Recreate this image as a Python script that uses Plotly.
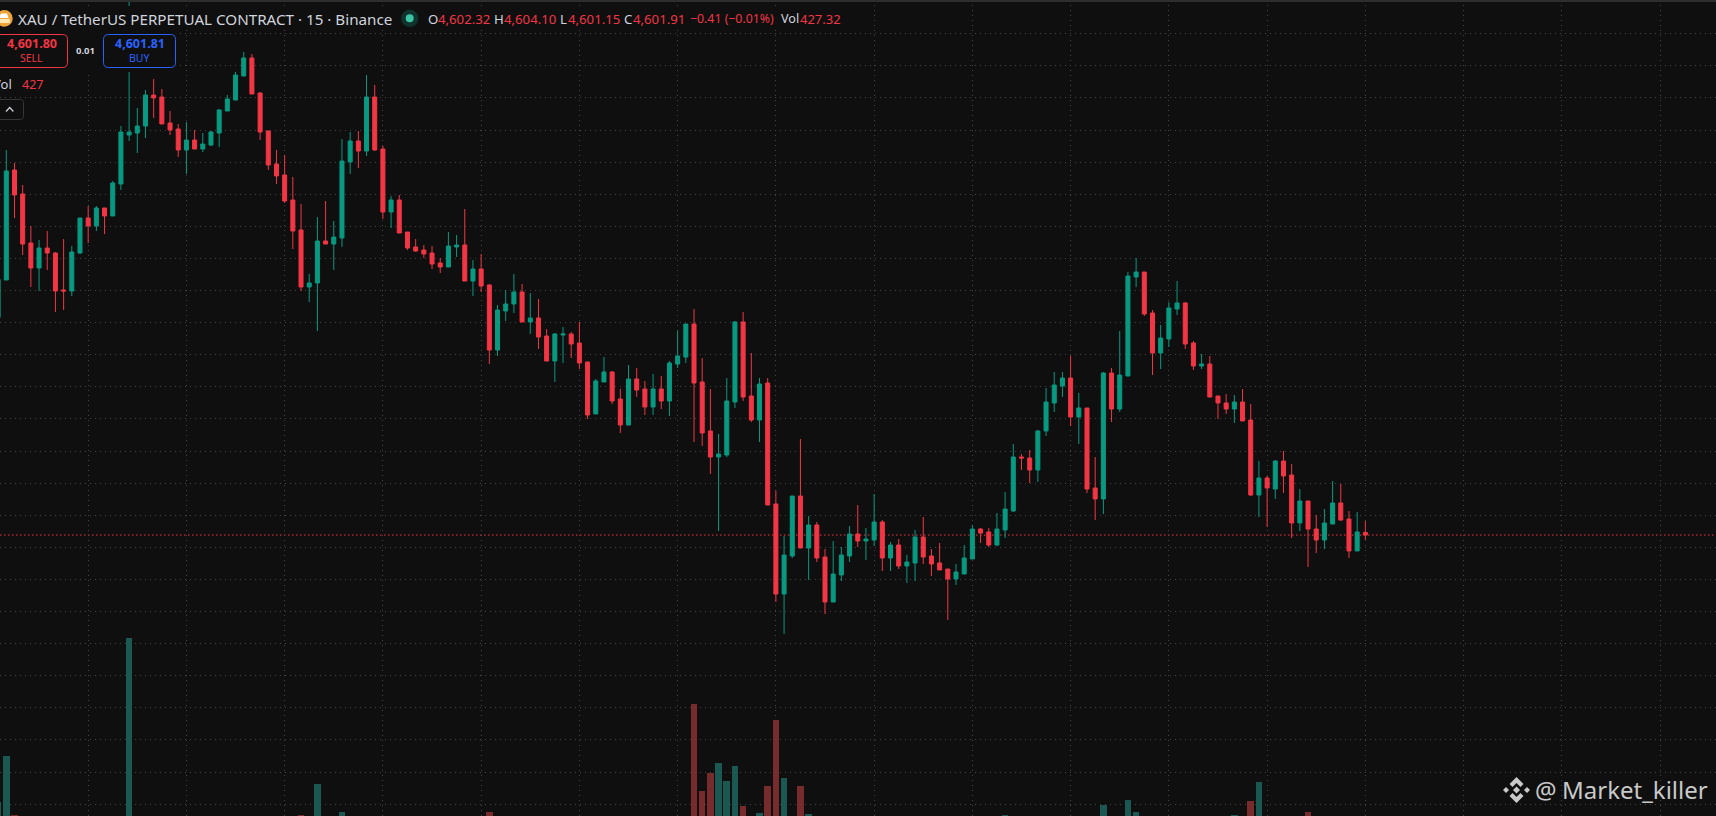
import plotly.graph_objects as go

candle_ids = list(range(-1, 167))

opens = [
    4635.82, 4641.64, 4658.77, 4655.03, 4647.40, 4643.51, 4646.62, 4645.84, 4640.08, 4639.92,
    4645.84, 4651.29, 4650.05, 4652.85, 4651.61, 4656.59, 4664.22, 4664.53, 4665.62, 4670.45,
    4670.14, 4666.09, 4665.16, 4661.89, 4663.44, 4662.04, 4662.66, 4664.53, 4667.96, 4669.67,
    4673.41, 4676.22, 4670.76, 4664.85, 4659.71, 4657.99, 4654.10, 4649.43, 4640.55, 4641.17,
    4647.71, 4647.24, 4648.18, 4660.02, 4663.29, 4661.73, 4670.14, 4662.04, 4652.23, 4654.10,
    4649.11, 4646.78, 4646.31, 4645.84, 4644.29, 4643.66, 4646.78, 4647.09, 4641.48, 4643.35,
    4640.86, 4630.73, 4636.81, 4637.90, 4639.77, 4635.10, 4635.72, 4632.91, 4629.02, 4633.07,
    4633.23, 4631.82, 4628.87, 4620.77, 4625.75, 4627.31, 4623.10, 4619.05, 4626.22, 4624.66,
    4621.86, 4624.66, 4622.79, 4628.55, 4629.64, 4634.78, 4625.75, 4618.12, 4614.07, 4614.38,
    4622.63, 4635.10, 4623.57, 4619.83, 4625.59, 4606.75, 4592.73, 4598.65, 4607.99, 4599.89,
    4603.48, 4598.49, 4591.48, 4595.69, 4598.65, 4602.07, 4600.98, 4601.14, 4603.94, 4598.34,
    4600.36, 4597.09, 4597.56, 4601.61, 4598.65, 4597.56, 4596.62, 4595.06, 4595.84, 4598.18,
    4602.85, 4602.39, 4600.36, 4602.70, 4605.66, 4614.07, 4613.91, 4612.04, 4618.12, 4622.48,
    4625.13, 4626.37, 4620.30, 4621.70, 4609.24, 4607.53, 4627.15, 4621.54, 4626.68, 4642.10,
    4642.88, 4636.50, 4630.27, 4632.45, 4637.12, 4638.06, 4631.82, 4628.24, 4628.55, 4623.57,
    4622.48, 4621.54, 4622.63, 4619.83, 4608.15, 4610.80, 4609.08, 4613.44, 4611.26, 4603.79,
    4607.21, 4602.85, 4601.14, 4603.63, 4606.90, 4604.41, 4599.43, 4602.32,
]
highs = [
    4642.50, 4661.89, 4659.86, 4656.43, 4650.05, 4647.87, 4649.27, 4646.00, 4648.02, 4646.93,
    4651.29, 4653.16, 4653.16, 4652.85, 4657.06, 4665.62, 4684.99, 4668.43, 4671.23, 4672.94,
    4671.39, 4667.96, 4665.94, 4666.25, 4665.00, 4664.53, 4664.85, 4668.27, 4670.45, 4674.04,
    4677.15, 4676.84, 4670.92, 4664.85, 4661.89, 4661.11, 4657.68, 4653.47, 4642.57, 4651.45,
    4653.94, 4650.83, 4663.60, 4664.69, 4664.85, 4673.57, 4672.01, 4662.51, 4654.72, 4654.88,
    4649.11, 4648.02, 4647.09, 4646.93, 4645.06, 4649.11, 4648.65, 4652.70, 4644.75, 4645.69,
    4641.01, 4637.74, 4640.08, 4642.57, 4641.01, 4639.61, 4638.68, 4634.00, 4633.38, 4634.32,
    4633.54, 4635.10, 4628.87, 4626.22, 4629.64, 4627.46, 4624.66, 4628.40, 4627.93, 4625.91,
    4627.00, 4626.68, 4629.02, 4633.75, 4634.78, 4637.12, 4629.49, 4624.66, 4617.65, 4626.37,
    4635.25, 4636.65, 4630.27, 4626.37, 4626.37, 4608.82, 4601.76, 4607.99, 4616.87, 4604.88,
    4603.94, 4599.74, 4600.98, 4600.05, 4603.32, 4606.59, 4603.01, 4608.30, 4604.25, 4600.83,
    4601.30, 4598.80, 4602.70, 4604.72, 4599.74, 4600.67, 4596.62, 4597.40, 4600.36, 4603.48,
    4603.01, 4603.01, 4605.35, 4608.62, 4616.09, 4614.53, 4615.16, 4618.27, 4624.82, 4627.31,
    4627.31, 4629.80, 4624.04, 4621.70, 4614.07, 4627.31, 4627.93, 4633.69, 4642.88, 4645.06,
    4642.88, 4636.96, 4634.63, 4638.21, 4641.48, 4638.21, 4632.14, 4630.11, 4629.80, 4623.57,
    4623.88, 4623.72, 4624.66, 4622.32, 4613.44, 4611.11, 4613.60, 4615.00, 4612.98, 4609.08,
    4607.21, 4605.03, 4605.97, 4610.33, 4609.86, 4605.66, 4605.50, 4604.10,
]
lows = [
    4634.00, 4641.64, 4651.29, 4645.53, 4640.55, 4639.92, 4643.19, 4636.65, 4636.96, 4639.15,
    4645.69, 4647.40, 4649.27, 4648.80, 4651.61, 4655.66, 4663.29, 4661.42, 4663.76, 4666.87,
    4665.94, 4664.22, 4660.80, 4658.15, 4662.04, 4661.57, 4662.51, 4662.35, 4667.96, 4669.67,
    4673.41, 4670.61, 4663.44, 4658.77, 4656.59, 4653.63, 4646.47, 4639.92, 4638.21, 4633.69,
    4647.24, 4643.19, 4646.78, 4658.15, 4659.08, 4660.95, 4661.73, 4651.14, 4649.74, 4648.96,
    4646.31, 4646.00, 4645.06, 4643.35, 4642.73, 4643.66, 4645.22, 4641.48, 4639.15, 4639.77,
    4628.55, 4629.80, 4635.25, 4636.50, 4635.10, 4633.23, 4630.89, 4629.02, 4625.75, 4628.71,
    4629.49, 4627.77, 4619.99, 4620.77, 4625.75, 4622.32, 4617.81, 4619.05, 4623.41, 4620.61,
    4620.61, 4621.54, 4620.45, 4627.93, 4628.71, 4616.40, 4615.78, 4611.42, 4602.54, 4614.07,
    4621.70, 4622.79, 4619.52, 4616.40, 4606.59, 4591.48, 4586.50, 4598.34, 4599.89, 4594.91,
    4597.71, 4589.61, 4591.48, 4594.75, 4597.71, 4600.05, 4598.02, 4600.21, 4596.31, 4596.31,
    4596.62, 4594.44, 4594.75, 4597.40, 4595.53, 4596.47, 4588.68, 4594.13, 4595.84, 4598.18,
    4600.67, 4600.05, 4600.21, 4601.45, 4605.50, 4612.04, 4610.02, 4610.17, 4617.34, 4621.08,
    4623.41, 4618.90, 4616.09, 4608.46, 4604.25, 4605.19, 4619.52, 4621.08, 4626.68, 4640.55,
    4636.03, 4626.84, 4627.77, 4631.20, 4636.19, 4630.89, 4627.62, 4627.77, 4623.41, 4619.99,
    4620.77, 4619.36, 4619.68, 4607.99, 4604.72, 4603.16, 4607.53, 4608.46, 4601.45, 4602.54,
    4596.93, 4599.12, 4599.74, 4603.63, 4604.10, 4598.34, 4599.43, 4601.15,
]
closes = [
    4641.74, 4658.62, 4654.88, 4647.24, 4643.51, 4646.62, 4645.84, 4639.92, 4639.92, 4646.00,
    4651.29, 4650.05, 4652.85, 4651.61, 4656.75, 4664.69, 4664.69, 4665.62, 4670.45, 4669.99,
    4665.94, 4665.00, 4661.89, 4663.44, 4662.04, 4662.82, 4664.69, 4668.12, 4669.83, 4673.57,
    4676.22, 4670.61, 4664.69, 4659.55, 4657.84, 4653.94, 4649.27, 4640.55, 4641.17, 4647.71,
    4647.24, 4648.33, 4660.17, 4663.29, 4661.73, 4670.14, 4661.89, 4652.23, 4654.10, 4648.96,
    4646.62, 4646.15, 4645.69, 4644.13, 4643.66, 4646.93, 4647.09, 4641.48, 4643.35, 4640.70,
    4630.73, 4636.96, 4637.90, 4639.77, 4635.10, 4635.72, 4632.76, 4629.02, 4633.23, 4633.23,
    4631.67, 4628.71, 4620.61, 4625.91, 4627.31, 4622.79, 4619.05, 4626.22, 4624.50, 4621.86,
    4624.66, 4622.79, 4628.71, 4629.80, 4634.78, 4625.59, 4617.81, 4614.07, 4614.53, 4622.79,
    4635.10, 4623.41, 4619.83, 4625.44, 4606.59, 4592.73, 4598.80, 4607.99, 4599.89, 4603.48,
    4598.34, 4591.48, 4595.84, 4598.80, 4602.07, 4600.98, 4601.30, 4603.94, 4598.34, 4600.36,
    4597.09, 4597.71, 4601.61, 4598.49, 4597.40, 4596.47, 4595.06, 4596.16, 4598.34, 4602.85,
    4602.23, 4600.36, 4602.85, 4605.97, 4614.07, 4613.91, 4612.04, 4618.12, 4622.63, 4625.28,
    4626.37, 4620.30, 4621.70, 4609.08, 4607.53, 4627.15, 4621.54, 4626.84, 4642.26, 4642.88,
    4636.34, 4630.27, 4632.60, 4637.28, 4638.06, 4631.67, 4628.24, 4628.55, 4623.41, 4622.48,
    4621.54, 4622.63, 4619.68, 4608.15, 4610.80, 4609.24, 4613.44, 4611.11, 4603.79, 4607.21,
    4602.85, 4601.14, 4603.79, 4606.90, 4604.25, 4599.43, 4602.39, 4601.91,
]

# only the volume bars that reach above the bottom edge of the screenshot
vol_ids = [-1, 0, 1, 15, 36, 38, 41, 59, 84, 85, 86, 87, 88, 89, 90, 92, 93, 94, 95, 97, 98,
           122, 134, 137, 138, 150, 152, 153, 159, 166]
vol_values = [950, 2100, 625, 5050, 625, 1400, 700, 700, 3400, 1225, 1675, 1925, 1475, 1850, 850,
              675, 1350, 3000, 1550, 1350, 650, 625, 875, 1000, 700, 625, 975, 1450, 700, 427]

UP = "#089981"
DOWN = "#f23645"
UP_VOL = "rgba(29,94,88,0.92)"
DOWN_VOL = "rgba(128,46,48,0.92)"
BG = "#0f0f0f"
GRID = "#444444"
TEXT = "#d1d4dc"
BLUE = "#2962ff"
FONT = "Noto Sans"

W, H = 1716, 816


def px(x):
    return x / W


def py(y):
    return 1 - y / H


def rrect(x0, y0, x1, y1, r):
    return (f"M {px(x0 + r)} {py(y0)} L {px(x1 - r)} {py(y0)} Q {px(x1)} {py(y0)} {px(x1)} {py(y0 + r)} "
            f"L {px(x1)} {py(y1 - r)} Q {px(x1)} {py(y1)} {px(x1 - r)} {py(y1)} "
            f"L {px(x0 + r)} {py(y1)} Q {px(x0)} {py(y1)} {px(x0)} {py(y1 - r)} "
            f"L {px(x0)} {py(y0 + r)} Q {px(x0)} {py(y0)} {px(x0 + r)} {py(y0)} Z")


def poly(points):
    return "M " + " L ".join(f"{px(x)} {py(y)}" for x, y in points) + " Z"


fig = go.Figure()

fig.add_trace(go.Candlestick(
    x=candle_ids, open=opens, high=highs, low=lows, close=closes,
    increasing=dict(line=dict(color=UP, width=1), fillcolor=UP),
    decreasing=dict(line=dict(color=DOWN, width=1), fillcolor=DOWN),
    whiskerwidth=0,
    showlegend=False,
))

vol_colors = []
for i in vol_ids:
    k = candle_ids.index(i)
    vol_colors.append(DOWN_VOL if closes[k] < opens[k] else UP_VOL)

fig.add_trace(go.Bar(
    x=vol_ids, y=vol_values, yaxis="y2", width=0.8,
    marker=dict(color=vol_colors, line=dict(width=0)),
    showlegend=False,
))

shapes = [
    # last price line
    dict(type="line", xref="paper", x0=0, x1=1, yref="y", y0=closes[-1], y1=closes[-1],
         line=dict(color=DOWN, width=1, dash="1.5px,2.5px"), layer="below"),
    # legend panels hide what runs underneath them
    dict(type="rect", xref="paper", yref="paper", x0=px(0), x1=px(845), y0=py(30), y1=py(6),
         fillcolor=BG, line=dict(width=0), layer="above"),
    dict(type="rect", xref="paper", yref="paper", x0=px(0), x1=px(177), y0=py(72), y1=py(30),
         fillcolor=BG, line=dict(width=0), layer="above"),
    # strip along the top of the page
    dict(type="rect", xref="paper", yref="paper", x0=0, x1=1, y0=py(2), y1=1,
         fillcolor="#2e2e2e", line=dict(width=0), layer="above"),
    # symbol icon
    dict(type="circle", xref="paper", yref="paper", x0=px(-4), x1=px(12.7), y0=py(26.8), y1=py(10),
         fillcolor="#eda53a", line=dict(width=0), layer="above"),
    dict(type="path", xref="paper", yref="paper", layer="above", fillcolor="#ffffff", line=dict(width=0),
         path=poly([(1, 13.5), (7, 13.5), (8.5, 18), (-1, 18)])),
    dict(type="path", xref="paper", yref="paper", layer="above", fillcolor="#fde9b5", line=dict(width=0),
         path=poly([(-3, 19), (9.5, 19), (10, 23), (-3, 23)])),
    # market status dot
    dict(type="circle", xref="paper", yref="paper", x0=px(401), x1=px(418.4), y0=py(27), y1=py(9.6),
         fillcolor="#10332e", line=dict(width=0), layer="above"),
    dict(type="circle", xref="paper", yref="paper", x0=px(405.7), x1=px(413.7), y0=py(22.3), y1=py(14.3),
         fillcolor="#3cc4a4", line=dict(width=0), layer="above"),
    # sell / buy boxes
    dict(type="path", xref="paper", yref="paper", layer="above", line=dict(color=DOWN, width=1),
         path=rrect(-4, 34.5, 67.5, 67.5, 5)),
    dict(type="path", xref="paper", yref="paper", layer="above", line=dict(color=BLUE, width=1),
         path=rrect(103.5, 34.5, 175.5, 67.5, 5)),
    # collapse button
    dict(type="path", xref="paper", yref="paper", layer="above", line=dict(color="#363636", width=1),
         path=rrect(-6, 99.5, 23.5, 119.5, 3)),
    dict(type="path", xref="paper", yref="paper", layer="above", line=dict(color=TEXT, width=1.2),
         path=f"M {px(6)} {py(111.5)} L {px(9.7)} {py(107.5)} L {px(13.4)} {py(111.5)}"),
    # watermark logo
    dict(type="path", xref="paper", yref="paper", layer="above", fillcolor="#c9c9c9", line=dict(width=0),
         path=poly([(1516.5, 777), (1523.5, 784), (1520.5, 787), (1516.5, 783), (1512.5, 787), (1509.5, 784)])),
    dict(type="path", xref="paper", yref="paper", layer="above", fillcolor="#c9c9c9", line=dict(width=0),
         path=poly([(1516.5, 803), (1523.5, 796), (1520.5, 793), (1516.5, 797), (1512.5, 793), (1509.5, 796)])),
    dict(type="path", xref="paper", yref="paper", layer="above", fillcolor="#c9c9c9", line=dict(width=0),
         path=poly([(1516.5, 786.5), (1520, 790), (1516.5, 793.5), (1513, 790)])),
    dict(type="path", xref="paper", yref="paper", layer="above", fillcolor="#c9c9c9", line=dict(width=0),
         path=poly([(1506, 787), (1509, 790), (1506, 793), (1503, 790)])),
    dict(type="path", xref="paper", yref="paper", layer="above", fillcolor="#c9c9c9", line=dict(width=0),
         path=poly([(1527, 787), (1530, 790), (1527, 793), (1524, 790)])),
]

# (text, x, y, anchor, size, colour)
labels = [
    ("XAU / TetherUS PERPETUAL CONTRACT · 15 · Binance", 17, 18.5, "left", 15.2, TEXT),
    ("O", 426.5, 18.5, "left", 13.2, TEXT),
    ("4,602.32", 436.5, 18.5, "left", 13.2, DOWN),
    ("H", 493, 18.5, "left", 13.2, TEXT),
    ("4,604.10", 502.5, 18.5, "left", 13.2, DOWN),
    ("L", 559, 18.5, "left", 13.2, TEXT),
    ("4,601.15", 566.5, 18.5, "left", 13.2, DOWN),
    ("C", 622.5, 18.5, "left", 13.2, TEXT),
    ("4,601.91", 632, 18.5, "left", 13.2, DOWN),
    ("−0.41 (−0.01%)", 688.5, 18.5, "left", 12.3, DOWN),
    ("Vol", 779.5, 18.5, "left", 12.6, TEXT),
    ("427.32", 798.5, 18.5, "left", 13, DOWN),
    ("<b>4,601.80</b>", 31.7, 43.5, "center", 12.5, DOWN),
    ("SELL", 31.7, 58.5, "center", 10.5, DOWN),
    ("<b>0.01</b>", 85.5, 50.7, "center", 9.5, TEXT),
    ("<b>4,601.81</b>", 139.5, 43.5, "center", 12.5, BLUE),
    ("BUY", 139.5, 58.5, "center", 10.5, BLUE),
    ("Vol", 13, 84.5, "right", 13, TEXT),
    ("427", 20.5, 84.5, "left", 12.5, DOWN),
    ("@", 1546, 789.5, "center", 24, "#c9c9c9"),
    ("Market_killer", 1561, 789.5, "left", 24, "#c9c9c9"),
]

annotations = [
    dict(text=t, x=px(x), y=py(y), xref="paper", yref="paper", xanchor=a, yanchor="middle",
         showarrow=False, font=dict(family=FONT, size=s, color=c), borderpad=0)
    for t, x, y, a, s, c in labels
]

grid = dict(showgrid=True, gridcolor=GRID, gridwidth=1, griddash="1px,4px", zeroline=False,
            showticklabels=False, ticks="", showline=False)

fig.update_layout(
    width=W, height=H,
    margin=dict(l=0, r=0, t=0, b=0),
    paper_bgcolor=BG, plot_bgcolor=BG,
    boxgap=0.3,
    bargap=0,
    hovermode=False,
    xaxis=dict(range=[-0.77, 208.83], tick0=10, dtick=12, rangeslider=dict(visible=False), **grid),
    yaxis=dict(range=[4558.15, 4685.25], tick0=4600, dtick=5, **grid),
    yaxis2=dict(range=[600, 21000], overlaying="y", showgrid=False, zeroline=False,
                showticklabels=False, ticks="", showline=False),
    shapes=shapes,
    annotations=annotations,
)

fig.write_html(
    "out.html",
    config={"displayModeBar": False},
    post_script="document.body.style.margin='0';document.body.style.overflow='hidden';document.body.style.background='#0f0f0f';",
)
